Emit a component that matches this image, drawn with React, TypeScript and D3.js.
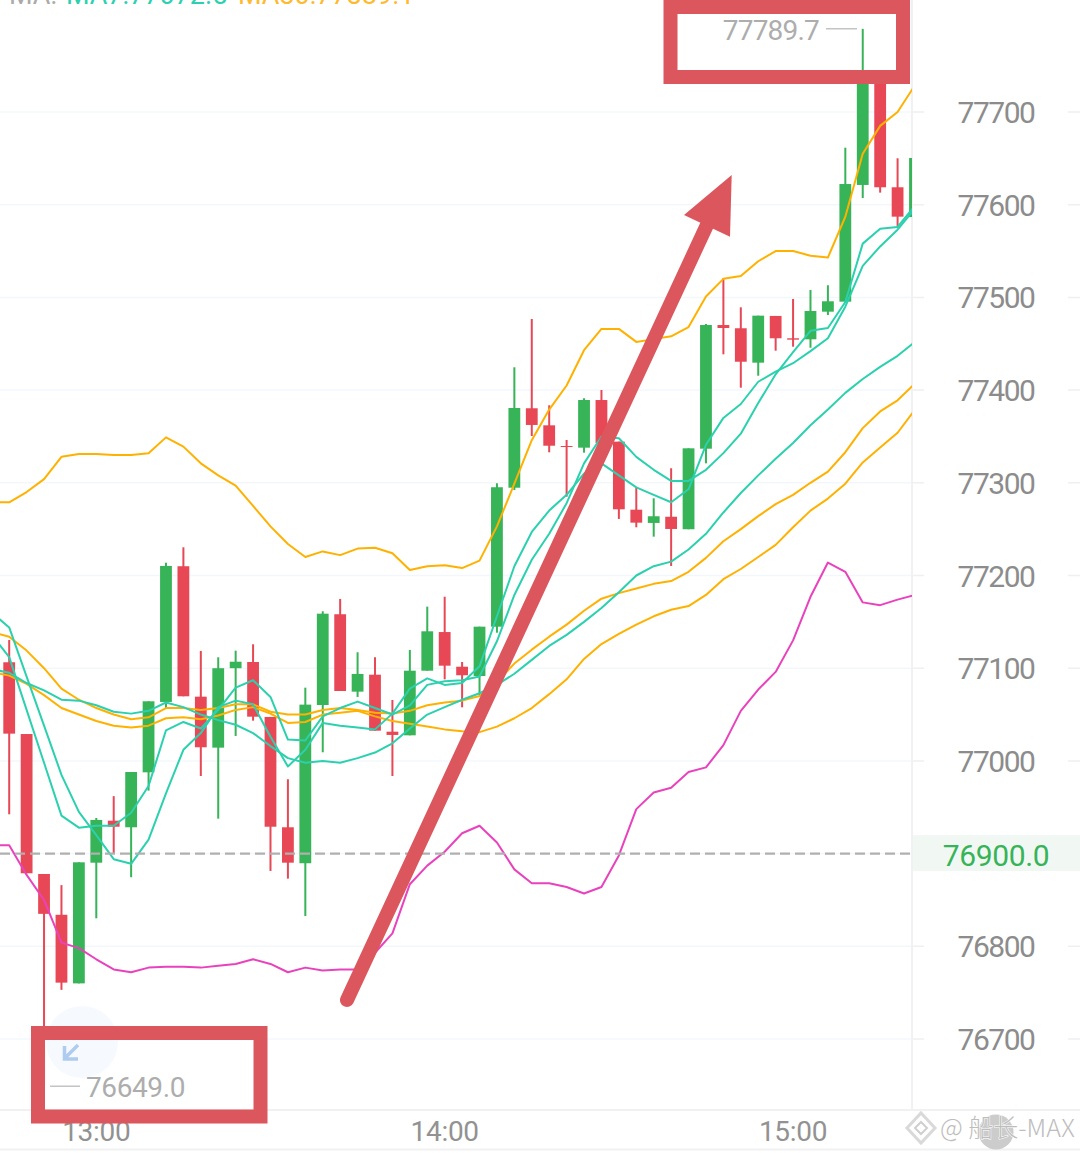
import { useEffect, useRef } from 'react'
import * as d3 from 'd3'

const opens = [77106.4, 77029, 76878, 76834, 76760, 76890.2, 76935.5, 76928.4, 76987.7, 77063.6, 77210, 77069.3, 77014.3, 77100, 77106.7, 77047.4, 76928.4, 76889.6, 77060.3, 77158.2, 77074.7, 77093, 77031.5, 77027.6, 77097.3, 77139, 77101.6, 77091.6, 77144.8, 77294.7, 77380.4, 77362, 77339.7, 77337.9, 77389.3, 77344.4, 77271, 77256.7, 77263.4, 77249.9, 77336.8, 77470.2, 77466.7, 77429.6, 77480, 77455.9, 77454.8, 77484.6, 77495.4, 77621.3, 77735, 77618.8, 77586.7]
const closes = [77029.4, 76878.8, 76835, 76760.8, 76890.6, 76936.3, 76929, 76988, 77064.3, 77210.3, 77069.7, 77014.7, 77100, 77107, 77047.7, 76929, 76890.2, 77060.7, 77158.8, 77075.4, 77093.8, 77032.6, 77028, 77097.3, 77139.8, 77102.7, 77092.4, 77144.8, 77295.2, 77380.7, 77362.4, 77340, 77338.6, 77389.3, 77343, 77271.4, 77257, 77263.9, 77250.2, 77337.2, 77470.2, 77467, 77430.6, 77480.3, 77455.9, 77454.4, 77485.3, 77495.8, 77622.3, 77735, 77618.8, 77587.1, 77650.4]
const highs = [77130.4, 77029, 76878, 76866, 76890.6, 76938.4, 76962, 76988, 77064.3, 77213.8, 77230.4, 77118.6, 77111.8, 77118.9, 77125.8, 77047.4, 76980.2, 77079, 77161.4, 77174.7, 77117.2, 77111.8, 77065.7, 77119.7, 77166.4, 77177.1, 77106.7, 77144.8, 77299.5, 77424.6, 77476.7, 77383.6, 77346.2, 77391.2, 77400.1, 77344.4, 77295.2, 77283.3, 77315.7, 77337.2, 77471.3, 77520.6, 77489.3, 77480.3, 77480, 77498.3, 77508, 77513.1, 77661.5, 77789.7, 77735, 77650.1, 77650.4]
const lows = [76942.4, 76878.8, 76649, 76753, 76760, 76830.2, 76900.7, 76874.5, 76967.9, 77057, 77069.7, 76983.7, 76937.7, 77026.9, 77043.4, 76881.3, 76873, 76832.7, 77009.3, 77075.4, 77069, 77032.6, 76983.7, 77027.6, 77097.3, 77088, 77057.8, 77071, 77138.3, 77292.2, 77350.5, 77332.9, 77285, 77332.5, 77343, 77261, 77252, 77241.9, 77210.3, 77249.9, 77321, 77438.6, 77402.6, 77415.5, 77442.5, 77446.8, 77445.7, 77481, 77495.4, 77607.2, 77613, 77576.3, 77586.7]

// line series start one slot left of the first candle, off the screen
const maFastA = [77160, 77144, 77091, 77038, 76985, 76945, 76920, 76894, 76889, 76915, 76965, 77012, 77030, 77058, 77065, 77061, 77026, 76994, 77012, 77041, 77038, 77036, 77034, 77051, 77078, 77089, 77082, 77084, 77102, 77156, 77210, 77247, 77270, 77287, 77310, 77321, 77308, 77295, 77287, 77279, 77293, 77341, 77370, 77385, 77409, 77420, 77429, 77442, 77456, 77490, 77534, 77555, 77573, 77596]
const maFastB = [77136, 77112, 77055, 76998, 76941, 76928, 76930, 76930, 76944, 76973, 77033, 77042, 77035, 77055, 77079, 77087, 77069, 77023, 77022, 77048, 77057, 77064, 77057, 77050, 77060, 77082, 77086, 77087, 77091, 77129, 77179, 77217, 77245, 77278, 77321, 77350, 77348, 77328, 77314, 77302, 77302, 77314, 77332, 77353, 77386, 77417, 77441, 77464, 77467, 77495, 77558, 77574, 77576, 77599]
const maSlow = [77099, 77095, 77084, 77076, 77066, 77065, 77060, 77053, 77051, 77054, 77063, 77058, 77050, 77044, 77039, 77030, 77016, 77003, 76998, 77000, 76998, 77003, 77009, 77019, 77035, 77050, 77058, 77066, 77073, 77082, 77094, 77109, 77124, 77136, 77150, 77165, 77182, 77200, 77210, 77215, 77228, 77245, 77268, 77289, 77308, 77326, 77343, 77362, 77379, 77397, 77412, 77425, 77437, 77452]
const bandUpper = [77279, 77279, 77290, 77304, 77328, 77331, 77331, 77330, 77330, 77332, 77349, 77339, 77321, 77308, 77297, 77275, 77253, 77234, 77220, 77226, 77222, 77229, 77230, 77224, 77206, 77210, 77211, 77208, 77216, 77253, 77299, 77346, 77379, 77405, 77443, 77466, 77466, 77452, 77455, 77458, 77468, 77501, 77520, 77523, 77539, 77550, 77550, 77545, 77543, 77587, 77655, 77685, 77700, 77729]
const midOrangeA = [77139, 77134, 77119, 77100, 77078, 77066, 77057, 77050, 77045, 77047, 77057, 77057, 77055, 77057, 77061, 77061, 77053, 77050, 77050, 77055, 77057, 77055, 77052, 77051, 77054, 77060, 77063, 77065, 77070, 77085, 77105, 77120, 77134, 77147, 77162, 77175, 77181, 77186, 77191, 77194, 77204, 77219, 77237, 77250, 77264, 77277, 77287, 77300, 77312, 77333, 77359, 77377, 77389, 77407]
const midOrangeB = [77096, 77092, 77083, 77071, 77057, 77050, 77043, 77038, 77036, 77038, 77046, 77047, 77045, 77049, 77055, 77058, 77051, 77041, 77042, 77050, 77052, 77054, 77048, 77043, 77040, 77037, 77034, 77032, 77031, 77037, 77046, 77057, 77072, 77088, 77110, 77126, 77137, 77147, 77156, 77163, 77167, 77179, 77196, 77207, 77220, 77233, 77252, 77270, 77283, 77299, 77322, 77338, 77354, 77379]
const bandLower = [76909, 76909, 76877, 76850, 76804, 76798, 76786, 76775, 76772, 76777, 76778, 76778, 76777, 76779, 76781, 76786, 76781, 76772, 76777, 76774, 76775, 76775, 76793, 76814, 76867, 76887, 76902, 76922, 76930, 76912, 76883, 76868, 76868, 76864, 76857, 76864, 76898, 76948, 76966, 76971, 76988, 76993, 77017, 77054, 77077, 77096, 77130, 77177, 77214, 77204, 77171, 77168, 77174, 77179]

const priceTicks = [77700, 77600, 77500, 77400, 77300, 77200, 77100, 77000, 76800, 76700]
const gridPrices = [77700, 77600, 77500, 77400, 77300, 77200, 77100, 77000, 76900, 76800, 76700]
const timeLabels = ['13:00', '14:00', '15:00']
const timeSlots = [5, 25, 45]
const lastPrice = 76900
const maxPrice = 77789.7
const minPrice = 76649

const GREEN = '#37b358'
const RED = '#e84855'
const TEAL = '#2bd1ae'
const ORANGE = '#ffb100'
const PINK = '#e942bd'
const MARK = '#dc575d'
const FONT = 'Roboto, sans-serif'

const WIDTH = 1080
const HEIGHT = 1153
const PLOT_RIGHT = 912
const AXIS_BOTTOM = 1110

const App = () => {
  const ref = useRef<SVGSVGElement>(null)

  useEffect(() => {
    const svg = d3.select(ref.current as SVGSVGElement)
    svg.selectAll('*').remove()

    const x = d3.scaleLinear().domain([0, 52]).range([9.2, 915])
    const y = d3.scaleLinear().domain([76700, 77700]).range([1039, 112])

    svg
      .append('clipPath')
      .attr('id', 'plot')
      .append('rect')
      .attr('width', PLOT_RIGHT)
      .attr('height', AXIS_BOTTOM)

    // header, cut by the top of the crop as in the screenshot
    const header = svg
      .append('text')
      .attr('y', 4)
      .attr('font-family', FONT)
      .attr('font-size', 27)
      .attr('font-weight', 400)
    header.append('tspan').attr('x', 9).attr('fill', '#aaaaaa').text('MA:')
    header.append('tspan').attr('x', 66).attr('fill', TEAL).text('MA7:77072.5')
    header.append('tspan').attr('x', 238).attr('fill', '#ffb92e').text('MA30:77389.1')

    // grid
    svg
      .append('g')
      .selectAll('line')
      .data(gridPrices)
      .join('line')
      .attr('x1', 0)
      .attr('x2', PLOT_RIGHT)
      .attr('y1', (d) => y(d))
      .attr('y2', (d) => y(d))
      .attr('stroke', '#f3f7fc')
      .attr('stroke-width', 1.5)

    svg
      .append('g')
      .selectAll('path')
      .data(priceTicks)
      .join('path')
      .attr('d', (d) => `M912,${y(d)}H924M1068,${y(d)}H1080`)
      .attr('stroke', '#f0f0f2')
      .attr('stroke-width', 1.5)

    svg
      .append('line')
      .attr('x1', PLOT_RIGHT)
      .attr('x2', PLOT_RIGHT)
      .attr('y1', 0)
      .attr('y2', AXIS_BOTTOM)
      .attr('stroke', '#f1f1f3')
      .attr('stroke-width', 2)

    svg
      .append('path')
      .attr('d', `M0,${AXIS_BOTTOM}H${WIDTH}M0,1149.5H${WIDTH}`)
      .attr('stroke', '#f1f1f3')
      .attr('stroke-width', 2)

    // price axis
    svg
      .append('g')
      .selectAll('text')
      .data(priceTicks)
      .join('text')
      .attr('x', 996)
      .attr('y', (d) => y(d) + 11)
      .attr('text-anchor', 'middle')
      .attr('font-family', FONT)
      .attr('font-size', 30)
      .attr('font-weight', 400)
      .attr('letter-spacing', -1.5)
      .attr('fill', '#8c8c8c')
      .text((d) => d)

    // time axis
    svg
      .append('g')
      .selectAll('text')
      .data(timeLabels)
      .join('text')
      .attr('x', (_, i) => x(timeSlots[i]))
      .attr('y', 1141)
      .attr('text-anchor', 'middle')
      .attr('font-family', FONT)
      .attr('font-size', 28)
      .attr('font-weight', 400)
      .attr('letter-spacing', -0.3)
      .attr('fill', '#929292')
      .text((d) => d)

    const plot = svg.append('g').attr('clip-path', 'url(#plot)')

    // candles
    const candles = plot
      .selectAll('g')
      .data(opens.map((_, i) => i))
      .join('g')
      .attr('fill', (i) => (closes[i] >= opens[i] ? GREEN : RED))

    candles
      .append('rect')
      .attr('x', (i) => x(i) - 1)
      .attr('width', 2)
      .attr('y', (i) => y(highs[i]))
      .attr('height', (i) => y(lows[i]) - y(highs[i]))

    candles
      .append('rect')
      .attr('x', (i) => x(i) - 5.9)
      .attr('width', 11.8)
      .attr('y', (i) => y(Math.max(opens[i], closes[i])))
      .attr('height', (i) => Math.abs(y(opens[i]) - y(closes[i])))

    // moving averages and bands
    const path = d3
      .line<number>()
      .x((_, i) => x(i - 1))
      .y((d) => y(d))

    const series: [number[], string][] = [
      [bandLower, PINK],
      [bandUpper, ORANGE],
      [midOrangeA, ORANGE],
      [midOrangeB, ORANGE],
      [maSlow, TEAL],
      [maFastB, TEAL],
      [maFastA, TEAL],
    ]

    plot
      .append('g')
      .selectAll('path')
      .data(series)
      .join('path')
      .attr('d', (d) => path(d[0]))
      .attr('fill', 'none')
      .attr('stroke', (d) => d[1])
      .attr('stroke-width', 2)
      .attr('stroke-linejoin', 'round')

    // last price
    plot
      .append('line')
      .attr('x1', 0)
      .attr('x2', PLOT_RIGHT)
      .attr('y1', y(lastPrice))
      .attr('y2', y(lastPrice))
      .attr('stroke', '#b0b0b0')
      .attr('stroke-width', 2.2)
      .attr('stroke-dasharray', '10 5')

    svg
      .append('rect')
      .attr('x', PLOT_RIGHT + 1)
      .attr('y', y(lastPrice) - 18.5)
      .attr('width', WIDTH - PLOT_RIGHT)
      .attr('height', 36)
      .attr('fill', '#f1f8f4')

    svg
      .append('text')
      .attr('x', 996)
      .attr('y', y(lastPrice) + 12)
      .attr('text-anchor', 'middle')
      .attr('font-family', FONT)
      .attr('font-size', 30)
      .attr('font-weight', 400)
      .attr('letter-spacing', -0.4)
      .attr('fill', GREEN)
      .text(lastPrice.toFixed(1))

    // back-to-now button
    svg
      .append('circle')
      .attr('cx', 82)
      .attr('cy', 1042)
      .attr('r', 36)
      .attr('fill', '#f6f9fe')

    svg
      .append('path')
      .attr('d', 'M78,1045L66,1057M64.5,1046V1059H78')
      .attr('fill', 'none')
      .attr('stroke', '#aecbf0')
      .attr('stroke-width', 3.5)

    // high and low callouts
    svg
      .append('path')
      .attr('d', `M826,${y(maxPrice)}H857M50,${y(minPrice)}H80`)
      .attr('stroke', '#c4c4c4')
      .attr('stroke-width', 1.5)

    svg
      .append('text')
      .attr('x', 819)
      .attr('y', 40)
      .attr('text-anchor', 'end')
      .attr('font-family', FONT)
      .attr('font-size', 28)
      .attr('font-weight', 400)
      .attr('letter-spacing', -0.8)
      .attr('fill', '#adadad')
      .text(maxPrice.toFixed(1))

    svg
      .append('text')
      .attr('x', 86)
      .attr('y', 1097)
      .attr('font-family', FONT)
      .attr('font-size', 28)
      .attr('font-weight', 400)
      .attr('letter-spacing', -0.4)
      .attr('fill', '#adadad')
      .text(minPrice.toFixed(1))

    // hand-drawn annotations
    const marks = svg.append('g')
    marks
      .append('rect')
      .attr('x', 670.5)
      .attr('y', 7)
      .attr('width', 232.5)
      .attr('height', 70)
      .attr('fill', 'none')
      .attr('stroke', MARK)
      .attr('stroke-width', 14)
    marks
      .append('rect')
      .attr('x', 38)
      .attr('y', 1033)
      .attr('width', 222.5)
      .attr('height', 83.5)
      .attr('fill', 'none')
      .attr('stroke', MARK)
      .attr('stroke-width', 14)
    marks
      .append('line')
      .attr('x1', 347)
      .attr('y1', 1000)
      .attr('x2', 706.5)
      .attr('y2', 226)
      .attr('stroke', MARK)
      .attr('stroke-width', 14)
      .attr('stroke-linecap', 'round')
    marks
      .append('path')
      .attr('d', 'M731.7,175L684,215L730,236.7Z')
      .attr('fill', MARK)

    // watermark
    const wm = svg.append('g')
    wm.append('circle').attr('cx', 996).attr('cy', 1132).attr('r', 17.5).attr('fill', '#cccccc')
    wm.append('path')
      .attr('d', 'M921,1113L935,1128L921,1143L907,1128Z')
      .attr('fill', '#ffffff')
      .attr('stroke', '#d9d9d9')
      .attr('stroke-width', 3)
    wm.append('path')
      .attr('d', 'M921,1122L927,1128L921,1134L915,1128Z')
      .attr('fill', '#ffffff')
      .attr('stroke', '#cfcfcf')
      .attr('stroke-width', 2)
    wm.append('text')
      .attr('x', 940)
      .attr('y', 1137)
      .attr('font-family', '"Noto Sans CJK SC", "Noto Sans", sans-serif')
      .attr('font-size', 25)
      .attr('font-weight', 300)
      .attr('fill', '#bdbdbd')
      .attr('stroke', '#ffffff')
      .attr('stroke-width', 1)
      .attr('paint-order', 'stroke')
      .text('@ 船长-MAX')
  }, [])

  return (
    <svg
      ref={ref}
      width={WIDTH}
      height={HEIGHT}
      style={{ position: 'absolute', left: 0, top: 0, background: '#ffffff' }}
    />
  )
}

export default App
